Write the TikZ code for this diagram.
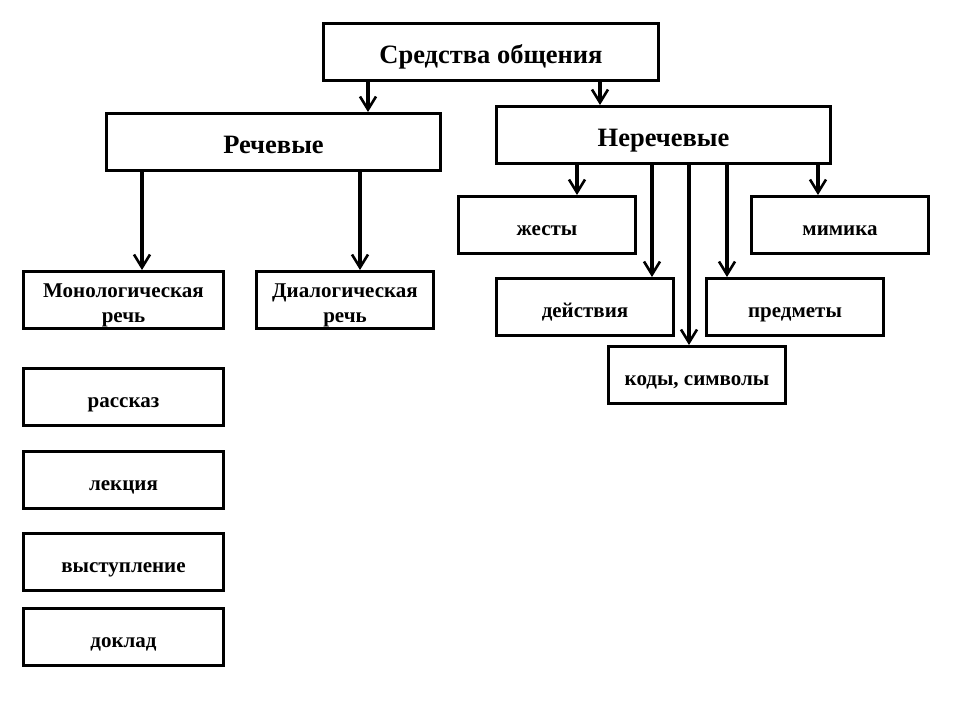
\documentclass[tikz,border=0pt]{standalone}
\usepackage{fontspec}
\setmainfont{Liberation Serif}
\usetikzlibrary{arrows.meta}
\tikzset{
  boxc/.style={draw, line width=2.6pt, inner sep=0pt},
  smalltxt/.style={inner sep=0pt, anchor=base, align=center, font=\bfseries\fontsize{21}{25}\selectfont},
  bigtxt/.style={inner sep=0pt, anchor=base, align=center, font=\bfseries\fontsize{26.5}{30}\selectfont},
  arr/.style={line width=3.8pt, -{Straight Barb[length=13pt,width=16pt,line width=2.6pt]}},
}
% text style, name, x1,y1,x2,y2, last-baseline offset from top, text
\newcommand{\bx}[8][smalltxt]{%
  \node[boxc, minimum width={#5-#3-2.6}, minimum height={#6-#4-2.6}] (#2) at ({(#3+#5)/2},{(#4+#6)/2}) {};
  \node[#1] (#2-t) at ([yshift=-#7pt]#2.north) {#8};}
\begin{document}
\begin{tikzpicture}[x=1pt,y=-1pt]
\useasboundingbox[fill=white] (0,0) rectangle (960,720);
\bx[bigtxt]{title}{322}{22}{660}{82}{41}{Средства общения}
\bx[bigtxt]{rech}{105}{112}{442}{172}{41}{Речевые}
\bx[bigtxt]{nerech}{495}{105}{832}{165}{41}{Неречевые}
\bx{zhest}{457}{195}{637}{255}{40.5}{жесты}
\bx{mim}{750}{195}{930}{255}{40.5}{мимика}
\bx{deist}{495}{277}{675}{337}{40.5}{действия}
\bx{pred}{705}{277}{885}{337}{40.5}{предметы}
\bx{kody}{607}{345}{787}{405}{40.5}{коды, символы}
\bx{mono}{22}{270}{225}{330}{52}{Монологическая\\речь}
\bx{dial}{255}{270}{435}{330}{52}{Диалогическая\\речь}
\bx{rass}{22}{367}{225}{427}{40.5}{рассказ}
\bx{lek}{22}{450}{225}{510}{40.5}{лекция}
\bx{vyst}{22}{532}{225}{592}{40.5}{выступление}
\bx{dokl}{22}{607}{225}{667}{40.5}{доклад}
\draw[arr] (368,0 |- title.south) -- (368,0 |- rech.north);
\draw[arr] (600,0 |- title.south) -- (600,0 |- nerech.north);
\draw[arr] (142,0 |- rech.south) -- (142,0 |- mono.north);
\draw[arr] (360,0 |- rech.south) -- (360,0 |- dial.north);
\draw[arr] (577,0 |- nerech.south) -- (577,0 |- zhest.north);
\draw[arr] (652,0 |- nerech.south) -- (652,0 |- deist.north);
\draw[arr] (689,0 |- nerech.south) -- (689,0 |- kody.north);
\draw[arr] (727,0 |- nerech.south) -- (727,0 |- pred.north);
\draw[arr] (818,0 |- nerech.south) -- (818,0 |- mim.north);
\end{tikzpicture}
\end{document}
